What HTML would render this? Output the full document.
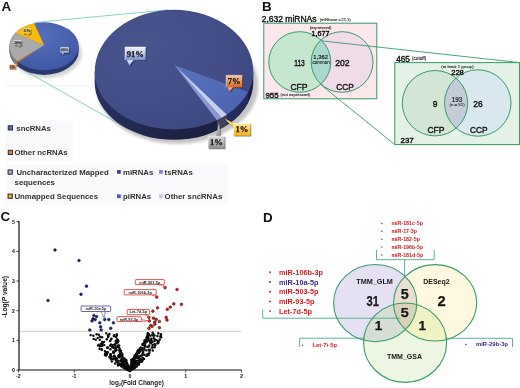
<!DOCTYPE html>
<html><head><meta charset="utf-8"><title>Figure</title>
<style>
html,body{margin:0;padding:0;background:#fff;}
body{width:520px;height:388px;overflow:hidden;font-family:"Liberation Sans",sans-serif;}
svg{display:block}
text{font-family:"Liberation Sans",sans-serif;}
.pl{font-weight:bold;font-size:13.4px;fill:#111}
.lg{font-weight:bold;font-size:7.8px;fill:#333}
.vt{fill:#151515;stroke:#151515;stroke-width:0.4px;paint-order:stroke}
.lg{stroke:none}
.vm{fill:#1a1a1a;stroke:#1a1a1a;stroke-width:0.18px;paint-order:stroke}
.vs{fill:#222;stroke:#222;stroke-width:0.1px;paint-order:stroke}
</style></head><body>
<svg width="520" height="388" viewBox="0 0 520 388">
<defs>
<radialGradient id="gBig" cx="0.3" cy="0.3" r="0.9"><stop offset="0" stop-color="#49548f"/><stop offset="0.55" stop-color="#434e89"/><stop offset="1" stop-color="#3b4680"/></radialGradient>
<linearGradient id="gBigSide" x1="0" y1="0" x2="1" y2="0"><stop offset="0" stop-color="#2a305f"/><stop offset="0.45" stop-color="#1e2346"/><stop offset="1" stop-color="#1a1e3d"/></linearGradient>
<radialGradient id="gSm" cx="0.45" cy="0.3" r="0.9"><stop offset="0" stop-color="#5570bd"/><stop offset="1" stop-color="#3b519c"/></radialGradient>
<linearGradient id="gMid" x1="0" y1="0" x2="1" y2="1"><stop offset="0" stop-color="#5b74bd"/><stop offset="1" stop-color="#4a62ae"/></linearGradient>
<linearGradient id="lblB" x1="0" y1="0" x2="0" y2="1"><stop offset="0" stop-color="#f1f4fc"/><stop offset="0.45" stop-color="#c3cdea"/><stop offset="1" stop-color="#7b8fc9"/></linearGradient>
<linearGradient id="lblO" x1="0" y1="0" x2="0" y2="1"><stop offset="0" stop-color="#f7c9a0"/><stop offset="1" stop-color="#d9661c"/></linearGradient>
<linearGradient id="lblY" x1="0" y1="0" x2="0" y2="1"><stop offset="0" stop-color="#ffe9a0"/><stop offset="1" stop-color="#f2b50a"/></linearGradient>
<linearGradient id="lblG" x1="0" y1="0" x2="0" y2="1"><stop offset="0" stop-color="#dcdcdc"/><stop offset="1" stop-color="#8f8f8f"/></linearGradient>
<filter id="sh" x="-20%" y="-20%" width="150%" height="160%"><feGaussianBlur stdDeviation="1.6"/></filter>
<filter id="soft"><feGaussianBlur stdDeviation="0.35"/></filter>
</defs>
<rect width="520" height="388" fill="#fff"/>

<g id="panelA">
<text x="1.4" y="11.3" class="pl">A</text>
<path d="M5.5,85.8 L90,85.8" stroke="#e6e6e6" stroke-width="0.6"/>
<path d="M34,22.6 L168,9.8 M18.8,67.4 L128,129" stroke="#7fd0b8" stroke-width="0.9" fill="none"/>
<ellipse cx="46.1" cy="53.4" rx="35.6" ry="24.5" fill="#999" opacity="0.45" filter="url(#sh)"/>
<path d="M9.5,46.3 L9.5,50.9 A34.6,24 0 0 0 78.7,50.9 L78.7,46.3 Z" fill="#2a3870"/>
<ellipse cx="44.1" cy="46.3" rx="34.6" ry="24" fill="url(#gSm)"/>
<path d="M18.39,62.36 A34.6,24 0 0 1 16.98,61.21 l0,4.6 A34.6,24 0 0 0 18.39,66.96 Z" fill="#9a4a10"/>
<path d="M16.98,61.21 A34.6,24 0 0 1 9.50,46.30 l0,4.6 A34.6,24 0 0 0 16.98,65.81 Z" fill="#7d7d7d"/>
<path d="M44.10,45.30 L18.39,62.36 A34.6,24 0 0 1 16.98,61.21 Z" fill="#d9701f" />
<path d="M44.10,45.30 L16.98,61.21 A34.6,24 0 0 1 15.28,33.02 Z" fill="#a9a9a9" />
<path d="M44.10,45.30 L15.28,33.02 A34.6,24 0 0 1 34.10,23.32 Z" fill="#f6b912" />
<path d="M23,28.7 H30.6 V33.8 H23 Z M26,33.5 L28.5,33.5 L28.5,36 Z" transform="translate(0.9,0.9)" fill="#1a1f3a" opacity="0.55" filter="url(#soft)"/><path d="M26,33.5 L28.5,33.5 L28.5,36 Z" fill="url(#lblY)"/><rect x="23" y="28.7" width="7.60" height="5.10" fill="url(#lblY)"/><path d="M23,33.8 V28.7 H30.6" fill="none" stroke="#fff" stroke-width="0.3" opacity="0.85"/><text x="26.80" y="32.47" font-size="3.6" font-weight="bold" text-anchor="middle" fill="#141414" stroke="#141414" stroke-width="0.08" style="font-family:'Liberation Serif',serif">11%</text>
<path d="M14.2,40.4 H21.4 V45.6 H14.2 Z M17,45 L19.5,45 L19.5,47.6 Z" transform="translate(0.9,0.9)" fill="#1a1f3a" opacity="0.55" filter="url(#soft)"/><path d="M17,45 L19.5,45 L19.5,47.6 Z" fill="url(#lblG)"/><rect x="14.2" y="40.4" width="7.20" height="5.20" fill="url(#lblG)"/><path d="M14.2,45.6 V40.4 H21.4" fill="none" stroke="#fff" stroke-width="0.3" opacity="0.85"/><text x="17.80" y="44.22" font-size="3.6" font-weight="bold" text-anchor="middle" fill="#141414" stroke="#141414" stroke-width="0.08" style="font-family:'Liberation Serif',serif">20%</text>
<path d="M60.7,47.4 H68.8 V53 H60.7 Z M62,52.5 L64.5,52.5 L62.6,55 Z" transform="translate(0.9,0.9)" fill="#1a1f3a" opacity="0.55" filter="url(#soft)"/><path d="M62,52.5 L64.5,52.5 L62.6,55 Z" fill="url(#lblB)"/><rect x="60.7" y="47.4" width="8.10" height="5.60" fill="url(#lblB)"/><path d="M60.7,53 V47.4 H68.8" fill="none" stroke="#fff" stroke-width="0.3" opacity="0.85"/><text x="64.75" y="51.42" font-size="3.6" font-weight="bold" text-anchor="middle" fill="#141414" stroke="#141414" stroke-width="0.08" style="font-family:'Liberation Serif',serif">68%</text>
<path d="M9.2,64.4 H15.5 V68.8 H9.2 Z M14,65 L15.4,66 L18,64.3 Z" transform="translate(0.9,0.9)" fill="#1a1f3a" opacity="0.55" filter="url(#soft)"/><path d="M14,65 L15.4,66 L18,64.3 Z" fill="url(#lblO)"/><rect x="9.2" y="64.4" width="6.30" height="4.40" fill="url(#lblO)"/><path d="M9.2,68.8 V64.4 H15.5" fill="none" stroke="#fff" stroke-width="0.3" opacity="0.85"/><text x="12.35" y="67.69" font-size="3.2" font-weight="bold" text-anchor="middle" fill="#141414" stroke="#141414" stroke-width="0.08" style="font-family:'Liberation Serif',serif">1%</text>
<ellipse cx="177" cy="85.30000000000001" rx="81.3" ry="58.5" fill="#888" opacity="0.5" filter="url(#sh)"/>
<path d="M94.7,71.9 L94.7,82.30000000000001 A79.3,57.5 0 0 0 253.3,82.30000000000001 L253.3,71.9 Z" fill="url(#gBigSide)"/>
<path d="M94.7,71.9 A79.3,62.2 0 0 1 253.3,71.9 A79.3,57.5 0 0 1 94.7,71.9 Z" fill="url(#gBig)"/>
<path d="M174.60,65.30 L248.28,92.04 A79.3,57.5 0 0 1 226.96,114.70 Z" fill="url(#gMid)" />
<path d="M174.60,65.30 L226.96,114.70 A79.3,57.5 0 0 1 221.61,117.88 Z" fill="#c5cff0" />
<path d="M174.60,65.30 L221.61,117.88 A79.3,57.5 0 0 1 216.96,120.23 Z" fill="#8b9ad2" />
<path d="M248.28,92.04 A79.3,57.5 0 0 1 226.96,114.70 l0,10.4 A79.3,57.5 0 0 0 248.28,102.44 Z" fill="#262d5c"/>
<path d="M226.96,114.70 A79.3,57.5 0 0 1 216.96,120.23 l0,10.4 A79.3,57.5 0 0 0 226.96,125.10 Z" fill="#3f4258"/>
<path d="M125,47 H145.6 V60.2 H125 Z M126.8,59.8 L133.6,59.8 L129.3,66 Z" transform="translate(0.9,0.9)" fill="#1a1f3a" opacity="0.55" filter="url(#soft)"/><path d="M126.8,59.8 L133.6,59.8 L129.3,66 Z" fill="url(#lblB)"/><rect x="125" y="47" width="20.60" height="13.20" fill="url(#lblB)"/><path d="M125,60.2 V47 H145.6" fill="none" stroke="#fff" stroke-width="0.5" opacity="0.85"/><text x="135.30" y="56.52" font-size="8.6" font-weight="bold" text-anchor="middle" fill="#141414" stroke="#141414" stroke-width="0.25" style="font-family:'Liberation Serif',serif">91%</text>
<path d="M226.2,75.3 H242.3 V87.4 H226.2 Z M227.8,87 L233,87 L229.5,92 Z" transform="translate(0.9,0.9)" fill="#1a1f3a" opacity="0.55" filter="url(#soft)"/><path d="M227.8,87 L233,87 L229.5,92 Z" fill="url(#lblO)"/><rect x="226.2" y="75.3" width="16.10" height="12.10" fill="url(#lblO)"/><path d="M226.2,87.4 V75.3 H242.3" fill="none" stroke="#fff" stroke-width="0.5" opacity="0.85"/><text x="234.25" y="84.27" font-size="8.6" font-weight="bold" text-anchor="middle" fill="#141414" stroke="#141414" stroke-width="0.25" style="font-family:'Liberation Serif',serif">7%</text>
<path d="M233.6,123.3 H250.4 V135.6 H233.6 Z M234,128.5 L234,123.5 L224.5,118.6 Z" transform="translate(0.9,0.9)" fill="#1a1f3a" opacity="0.55" filter="url(#soft)"/><path d="M234,128.5 L234,123.5 L224.5,118.6 Z" fill="url(#lblY)"/><rect x="233.6" y="123.3" width="16.80" height="12.30" fill="url(#lblY)"/><path d="M233.6,135.6 V123.3 H250.4" fill="none" stroke="#fff" stroke-width="0.5" opacity="0.85"/><text x="242.00" y="132.37" font-size="8.6" font-weight="bold" text-anchor="middle" fill="#141414" stroke="#141414" stroke-width="0.25" style="font-family:'Liberation Serif',serif">1%</text>
<path d="M208.2,136.1 H224.6 V148.3 H208.2 Z M216,136.5 L220.6,136.5 L219,123 Z" transform="translate(0.9,0.9)" fill="#1a1f3a" opacity="0.55" filter="url(#soft)"/><path d="M216,136.5 L220.6,136.5 L219,123 Z" fill="url(#lblG)"/><rect x="208.2" y="136.1" width="16.40" height="12.20" fill="url(#lblG)"/><path d="M208.2,148.3 V136.1 H224.6" fill="none" stroke="#fff" stroke-width="0.5" opacity="0.85"/><text x="216.40" y="145.12" font-size="8.6" font-weight="bold" text-anchor="middle" fill="#141414" stroke="#141414" stroke-width="0.25" style="font-family:'Liberation Serif',serif">1%</text>
<rect x="5.4" y="120.7" width="67.3" height="40.3" fill="#fafafc"/><rect x="5.4" y="164.2" width="222.3" height="40.2" fill="#fafafc"/>
<rect x="8.3" y="125.80000000000001" width="4.2" height="4.2" fill="#5470c4" stroke="#2e3048" stroke-width="1.05"/><text x="16.3" y="130.70000000000002" class="lg">sncRNAs</text>
<rect x="8.3" y="150.3" width="4.2" height="4.2" fill="#ee7f22" stroke="#2e3048" stroke-width="1.05"/><text x="14.4" y="155.20000000000002" class="lg">Other ncRNAs</text>
<rect x="8.1" y="170.0" width="4.2" height="4.2" fill="#b5b5b5" stroke="#2e3048" stroke-width="1.05"/><text x="16.4" y="174.9" class="lg">Uncharacterized Mapped</text>
<text x="14.6" y="184.6" class="lg">sequences</text>
<rect x="8.1" y="194.1" width="4.2" height="4.2" fill="#f6b912" stroke="#2e3048" stroke-width="1.05"/><text x="14.4" y="199.0" class="lg">Unmapped Sequences</text>
<rect x="117.0" y="170.0" width="3.8" height="3.8" fill="#3b4a8c"/><text x="123" y="174.70000000000002" class="lg">miRNAs</text>
<rect x="159.1" y="170.0" width="3.8" height="3.8" fill="#7b8ccb"/><text x="164.6" y="174.70000000000002" class="lg">tsRNAs</text>
<rect x="117.0" y="194.29999999999998" width="3.8" height="3.8" fill="#4a5fb0"/><text x="123" y="199.0" class="lg">piRNAs</text>
<rect x="159.1" y="194.29999999999998" width="3.8" height="3.8" fill="#c3c7e8"/><text x="164.6" y="199.0" class="lg">Other sncRNAs</text>
</g>
<g id="panelB">
<text x="262" y="11" class="pl">B</text>
<text x="261.7" y="21.6" font-size="8.5" text-anchor="start" class="vt" >2,632 miRNAs</text>
<text x="319.7" y="21.3" font-size="4.1" text-anchor="start" class="vs" >(miRbase v.22.1)</text>
<rect x="263.8" y="23.2" width="113" height="75.6" fill="#fbe8ec" stroke="#3a9a6a" stroke-width="1"/>
<clipPath id="cpB1"><ellipse cx="299.75" cy="62" rx="31" ry="30.3" /></clipPath>
<ellipse cx="299.75" cy="62" rx="31" ry="30.3" fill="#c6e6d0"/>
<ellipse cx="342.1" cy="62" rx="30.9" ry="30.3" fill="#f0dbe9"/>
<ellipse cx="342.1" cy="62" rx="30.9" ry="30.3" fill="#a9d9cd" clip-path="url(#cpB1)"/>
<ellipse cx="299.75" cy="62" rx="31" ry="30.3" fill="none" stroke="#3a9a6a" stroke-width="1"/>
<ellipse cx="342.1" cy="62" rx="30.9" ry="30.3" fill="none" stroke="#3a9a6a" stroke-width="1"/>
<path d="M321.2,40.8 L519.5,62.6 M321.2,85 L394.8,144.6" stroke="#3a9a6a" stroke-width="0.9" fill="none"/>
<text x="320.5" y="29" font-size="4.1" text-anchor="middle" class="vs" >(expressed)</text>
<text x="320.4" y="35.5" font-size="7.2" text-anchor="middle" class="vt" >1,677</text>
<text x="299.5" y="66.3" font-size="8.6" text-anchor="middle" class="vt" textLength="10.6" lengthAdjust="spacingAndGlyphs" >113</text>
<text x="342.3" y="66.3" font-size="8.6" text-anchor="middle" class="vt" >202</text>
<text x="320.7" y="58.8" font-size="5.9" text-anchor="middle" class="vm" >1,362</text>
<text x="321.2" y="63.9" font-size="4.5" text-anchor="middle" class="vs" >common</text>
<text x="299" y="90" font-size="9.5" text-anchor="middle" class="vt" textLength="17.2" lengthAdjust="spacingAndGlyphs" >CFP</text>
<text x="345" y="90" font-size="9.5" text-anchor="middle" class="vt" textLength="17.6" lengthAdjust="spacingAndGlyphs" >CCP</text>
<text x="265.4" y="97.5" font-size="7.9" text-anchor="start" class="vt" >955</text>
<text x="280.5" y="96.4" font-size="4.25" text-anchor="start" class="vs" >(not expressed)</text>
<rect x="394.8" y="62.6" width="124.7" height="82" fill="#e3f1e6" stroke="#3a9a6a" stroke-width="1"/>
<clipPath id="cpB2"><ellipse cx="435" cy="103.2" rx="32.7" ry="32.7" /></clipPath>
<ellipse cx="435" cy="103.2" rx="32.7" ry="32.7" fill="#d3e5d5"/>
<ellipse cx="477.8" cy="103" rx="33.2" ry="33.2" fill="#d9e7ee"/>
<ellipse cx="477.8" cy="103" rx="33.2" ry="33.2" fill="#c4ccd9" clip-path="url(#cpB2)"/>
<ellipse cx="435" cy="103.2" rx="32.7" ry="32.7" fill="none" stroke="#3a9a6a" stroke-width="1"/>
<ellipse cx="477.8" cy="103" rx="33.2" ry="33.2" fill="none" stroke="#3a9a6a" stroke-width="1"/>
<text x="396.2" y="61.7" font-size="8.2" text-anchor="start" class="vt" >465</text>
<text x="412" y="60.2" font-size="4.6" text-anchor="start" class="vs" >(cutoff)</text>
<text x="457.5" y="68.2" font-size="4.3" text-anchor="middle" class="vs" >(at least 1 group)</text>
<text x="457.5" y="75" font-size="7.6" text-anchor="middle" class="vt" >228</text>
<text x="435" y="107" font-size="8.4" text-anchor="middle" class="vt" >9</text>
<text x="478" y="107" font-size="8.4" text-anchor="middle" class="vt" >26</text>
<text x="457.1" y="101.7" font-size="6.3" text-anchor="middle" class="vm" >193</text>
<text x="457.1" y="106.3" font-size="4.4" text-anchor="middle" class="vs" >(n = 51)</text>
<text x="436" y="133.2" font-size="9.5" text-anchor="middle" class="vt" textLength="17.2" lengthAdjust="spacingAndGlyphs" >CFP</text>
<text x="478.8" y="132.6" font-size="9.5" text-anchor="middle" class="vt" textLength="17.6" lengthAdjust="spacingAndGlyphs" >CCP</text>
<text x="400.5" y="143" font-size="7.9" text-anchor="start" class="vt" >237</text>
</g>
<g id="panelC">
<text x="0.6" y="221.2" class="pl">C</text>
<path d="M19,221 L19,370 L241.5,370" stroke="#111" stroke-width="1.2" fill="none"/>
<path d="M16.5,370.0 L19,370.0" stroke="#111" stroke-width="0.8"/>
<text x="15" y="371.8" font-size="5.2" font-weight="bold" text-anchor="end" fill="#111">0</text>
<path d="M16.5,340.3 L19,340.3" stroke="#111" stroke-width="0.8"/>
<text x="15" y="342.1" font-size="5.2" font-weight="bold" text-anchor="end" fill="#111">1</text>
<path d="M16.5,310.7 L19,310.7" stroke="#111" stroke-width="0.8"/>
<text x="15" y="312.5" font-size="5.2" font-weight="bold" text-anchor="end" fill="#111">2</text>
<path d="M16.5,281.0 L19,281.0" stroke="#111" stroke-width="0.8"/>
<text x="15" y="282.8" font-size="5.2" font-weight="bold" text-anchor="end" fill="#111">3</text>
<path d="M16.5,251.4 L19,251.4" stroke="#111" stroke-width="0.8"/>
<text x="15" y="253.2" font-size="5.2" font-weight="bold" text-anchor="end" fill="#111">4</text>
<path d="M16.5,221.7 L19,221.7" stroke="#111" stroke-width="0.8"/>
<text x="15" y="223.5" font-size="5.2" font-weight="bold" text-anchor="end" fill="#111">5</text>
<path d="M18.4,370 L18.4,372.5" stroke="#111" stroke-width="0.8"/>
<text x="18.4" y="378" font-size="5.2" font-weight="bold" text-anchor="middle" fill="#111">-2</text>
<path d="M74.2,370 L74.2,372.5" stroke="#111" stroke-width="0.8"/>
<text x="74.2" y="378" font-size="5.2" font-weight="bold" text-anchor="middle" fill="#111">-1</text>
<path d="M129.9,370 L129.9,372.5" stroke="#111" stroke-width="0.8"/>
<text x="129.9" y="378" font-size="5.2" font-weight="bold" text-anchor="middle" fill="#111">0</text>
<path d="M185.7,370 L185.7,372.5" stroke="#111" stroke-width="0.8"/>
<text x="185.7" y="378" font-size="5.2" font-weight="bold" text-anchor="middle" fill="#111">1</text>
<path d="M241.4,370 L241.4,372.5" stroke="#111" stroke-width="0.8"/>
<text x="241.4" y="378" font-size="5.2" font-weight="bold" text-anchor="middle" fill="#111">2</text>
<path d="M19,331.3 L241.5,331.3" stroke="#555" stroke-width="0.55" stroke-dasharray="0.8,0.8"/>
<text transform="translate(7.4,296.9) rotate(-90)" font-size="6.6" font-weight="bold" text-anchor="middle" fill="#222">-Log(<tspan font-style="italic">P</tspan> value)</text>
<text x="136.6" y="385" font-size="6.4" font-weight="bold" text-anchor="middle" fill="#222">log<tspan font-size="3.6" dy="1.2">2</tspan><tspan dy="-1.2">(Fold Change)</tspan></text>
<circle cx="152.7" cy="332.6" r="1.2" fill="#0c0c0c"/>
<circle cx="147.7" cy="333.2" r="1.2" fill="#0c0c0c"/>
<circle cx="106.2" cy="333.2" r="1.2" fill="#0c0c0c"/>
<circle cx="158.3" cy="333.3" r="1.2" fill="#0c0c0c"/>
<circle cx="148.2" cy="333.7" r="1.2" fill="#0c0c0c"/>
<circle cx="109.4" cy="334.0" r="1.2" fill="#0c0c0c"/>
<circle cx="153.4" cy="334.0" r="1.2" fill="#0c0c0c"/>
<circle cx="116.7" cy="334.2" r="1.2" fill="#0c0c0c"/>
<circle cx="161.0" cy="334.2" r="1.2" fill="#0c0c0c"/>
<circle cx="96.6" cy="334.3" r="1.2" fill="#0c0c0c"/>
<circle cx="148.4" cy="334.3" r="1.2" fill="#0c0c0c"/>
<circle cx="148.7" cy="334.7" r="1.2" fill="#0c0c0c"/>
<circle cx="152.3" cy="334.8" r="1.2" fill="#0c0c0c"/>
<circle cx="148.9" cy="334.8" r="1.2" fill="#0c0c0c"/>
<circle cx="98.8" cy="334.8" r="1.2" fill="#0c0c0c"/>
<circle cx="90.6" cy="335.1" r="1.2" fill="#0c0c0c"/>
<circle cx="114.0" cy="335.2" r="1.2" fill="#0c0c0c"/>
<circle cx="147.5" cy="335.3" r="1.2" fill="#0c0c0c"/>
<circle cx="108.1" cy="335.3" r="1.2" fill="#0c0c0c"/>
<circle cx="154.5" cy="335.5" r="1.2" fill="#0c0c0c"/>
<circle cx="116.8" cy="335.5" r="1.2" fill="#0c0c0c"/>
<circle cx="153.4" cy="335.7" r="1.2" fill="#0c0c0c"/>
<circle cx="93.3" cy="335.7" r="1.2" fill="#0c0c0c"/>
<circle cx="160.8" cy="335.8" r="1.2" fill="#0c0c0c"/>
<circle cx="150.5" cy="335.8" r="1.2" fill="#0c0c0c"/>
<circle cx="108.4" cy="335.9" r="1.2" fill="#0c0c0c"/>
<circle cx="147.9" cy="335.9" r="1.2" fill="#0c0c0c"/>
<circle cx="157.4" cy="336.0" r="1.2" fill="#0c0c0c"/>
<circle cx="147.4" cy="336.3" r="1.2" fill="#0c0c0c"/>
<circle cx="114.0" cy="336.3" r="1.2" fill="#0c0c0c"/>
<circle cx="148.0" cy="336.6" r="1.2" fill="#0c0c0c"/>
<circle cx="100.0" cy="336.7" r="1.2" fill="#0c0c0c"/>
<circle cx="147.1" cy="336.8" r="1.2" fill="#0c0c0c"/>
<circle cx="160.4" cy="336.8" r="1.2" fill="#0c0c0c"/>
<circle cx="146.9" cy="336.9" r="1.2" fill="#0c0c0c"/>
<circle cx="116.1" cy="337.0" r="1.2" fill="#0c0c0c"/>
<circle cx="108.0" cy="337.0" r="1.2" fill="#0c0c0c"/>
<circle cx="108.2" cy="337.1" r="1.2" fill="#0c0c0c"/>
<circle cx="102.1" cy="337.3" r="1.2" fill="#0c0c0c"/>
<circle cx="161.1" cy="337.3" r="1.2" fill="#0c0c0c"/>
<circle cx="147.4" cy="337.5" r="1.2" fill="#0c0c0c"/>
<circle cx="148.3" cy="337.8" r="1.2" fill="#0c0c0c"/>
<circle cx="97.7" cy="337.9" r="1.2" fill="#0c0c0c"/>
<circle cx="147.3" cy="337.9" r="1.2" fill="#0c0c0c"/>
<circle cx="146.4" cy="338.0" r="1.2" fill="#0c0c0c"/>
<circle cx="153.7" cy="338.1" r="1.2" fill="#0c0c0c"/>
<circle cx="148.4" cy="338.1" r="1.2" fill="#0c0c0c"/>
<circle cx="111.5" cy="338.6" r="1.2" fill="#0c0c0c"/>
<circle cx="151.4" cy="338.8" r="1.2" fill="#0c0c0c"/>
<circle cx="93.7" cy="338.9" r="1.2" fill="#0c0c0c"/>
<circle cx="148.1" cy="339.1" r="1.2" fill="#0c0c0c"/>
<circle cx="117.1" cy="339.2" r="1.2" fill="#0c0c0c"/>
<circle cx="106.8" cy="339.3" r="1.2" fill="#0c0c0c"/>
<circle cx="154.6" cy="339.3" r="1.2" fill="#0c0c0c"/>
<circle cx="111.1" cy="339.4" r="1.2" fill="#0c0c0c"/>
<circle cx="159.8" cy="339.5" r="1.2" fill="#0c0c0c"/>
<circle cx="150.8" cy="339.6" r="1.2" fill="#0c0c0c"/>
<circle cx="99.8" cy="339.7" r="1.2" fill="#0c0c0c"/>
<circle cx="95.8" cy="339.7" r="1.2" fill="#0c0c0c"/>
<circle cx="156.5" cy="340.1" r="1.2" fill="#0c0c0c"/>
<circle cx="117.9" cy="340.1" r="1.2" fill="#0c0c0c"/>
<circle cx="144.6" cy="340.2" r="1.2" fill="#0c0c0c"/>
<circle cx="145.8" cy="340.2" r="1.2" fill="#0c0c0c"/>
<circle cx="117.7" cy="340.2" r="1.2" fill="#0c0c0c"/>
<circle cx="148.0" cy="340.2" r="1.2" fill="#0c0c0c"/>
<circle cx="145.6" cy="340.4" r="1.2" fill="#0c0c0c"/>
<circle cx="150.1" cy="340.5" r="1.2" fill="#0c0c0c"/>
<circle cx="118.0" cy="340.7" r="1.2" fill="#0c0c0c"/>
<circle cx="151.6" cy="340.9" r="1.2" fill="#0c0c0c"/>
<circle cx="115.7" cy="341.0" r="1.2" fill="#0c0c0c"/>
<circle cx="110.2" cy="341.0" r="1.2" fill="#0c0c0c"/>
<circle cx="118.2" cy="341.0" r="1.2" fill="#0c0c0c"/>
<circle cx="154.6" cy="341.0" r="1.2" fill="#0c0c0c"/>
<circle cx="147.5" cy="341.1" r="1.2" fill="#0c0c0c"/>
<circle cx="158.7" cy="341.1" r="1.2" fill="#0c0c0c"/>
<circle cx="157.9" cy="341.1" r="1.2" fill="#0c0c0c"/>
<circle cx="118.1" cy="341.3" r="1.2" fill="#0c0c0c"/>
<circle cx="145.2" cy="341.6" r="1.2" fill="#0c0c0c"/>
<circle cx="152.6" cy="341.7" r="1.2" fill="#0c0c0c"/>
<circle cx="115.9" cy="341.9" r="1.2" fill="#0c0c0c"/>
<circle cx="102.2" cy="341.9" r="1.2" fill="#0c0c0c"/>
<circle cx="150.5" cy="342.0" r="1.2" fill="#0c0c0c"/>
<circle cx="104.0" cy="342.0" r="1.2" fill="#0c0c0c"/>
<circle cx="146.3" cy="342.3" r="1.2" fill="#0c0c0c"/>
<circle cx="158.5" cy="342.4" r="1.2" fill="#0c0c0c"/>
<circle cx="150.0" cy="342.5" r="1.2" fill="#0c0c0c"/>
<circle cx="144.1" cy="342.5" r="1.2" fill="#0c0c0c"/>
<circle cx="117.8" cy="342.5" r="1.2" fill="#0c0c0c"/>
<circle cx="144.4" cy="342.8" r="1.2" fill="#0c0c0c"/>
<circle cx="157.7" cy="342.9" r="1.2" fill="#0c0c0c"/>
<circle cx="151.0" cy="343.2" r="1.2" fill="#0c0c0c"/>
<circle cx="102.1" cy="343.3" r="1.2" fill="#0c0c0c"/>
<circle cx="116.2" cy="343.3" r="1.2" fill="#0c0c0c"/>
<circle cx="157.5" cy="343.4" r="1.2" fill="#0c0c0c"/>
<circle cx="102.5" cy="343.5" r="1.2" fill="#0c0c0c"/>
<circle cx="100.7" cy="343.9" r="1.2" fill="#0c0c0c"/>
<circle cx="143.5" cy="343.9" r="1.2" fill="#0c0c0c"/>
<circle cx="144.9" cy="344.0" r="1.2" fill="#0c0c0c"/>
<circle cx="154.7" cy="344.0" r="1.2" fill="#0c0c0c"/>
<circle cx="142.8" cy="344.1" r="1.2" fill="#0c0c0c"/>
<circle cx="142.6" cy="344.1" r="1.2" fill="#0c0c0c"/>
<circle cx="114.8" cy="344.4" r="1.2" fill="#0c0c0c"/>
<circle cx="111.0" cy="344.5" r="1.2" fill="#0c0c0c"/>
<circle cx="143.5" cy="344.7" r="1.2" fill="#0c0c0c"/>
<circle cx="114.3" cy="344.8" r="1.2" fill="#0c0c0c"/>
<circle cx="142.5" cy="344.9" r="1.2" fill="#0c0c0c"/>
<circle cx="98.7" cy="344.9" r="1.2" fill="#0c0c0c"/>
<circle cx="152.6" cy="344.9" r="1.2" fill="#0c0c0c"/>
<circle cx="112.6" cy="345.1" r="1.2" fill="#0c0c0c"/>
<circle cx="104.2" cy="345.1" r="1.2" fill="#0c0c0c"/>
<circle cx="144.8" cy="345.2" r="1.2" fill="#0c0c0c"/>
<circle cx="145.0" cy="345.3" r="1.2" fill="#0c0c0c"/>
<circle cx="155.3" cy="345.3" r="1.2" fill="#0c0c0c"/>
<circle cx="143.2" cy="345.3" r="1.2" fill="#0c0c0c"/>
<circle cx="98.1" cy="345.4" r="1.2" fill="#0c0c0c"/>
<circle cx="102.5" cy="345.4" r="1.2" fill="#0c0c0c"/>
<circle cx="149.2" cy="345.4" r="1.2" fill="#0c0c0c"/>
<circle cx="118.6" cy="345.4" r="1.2" fill="#0c0c0c"/>
<circle cx="101.8" cy="345.5" r="1.2" fill="#0c0c0c"/>
<circle cx="119.2" cy="345.6" r="1.2" fill="#0c0c0c"/>
<circle cx="117.9" cy="345.7" r="1.2" fill="#0c0c0c"/>
<circle cx="101.9" cy="345.8" r="1.2" fill="#0c0c0c"/>
<circle cx="110.1" cy="345.8" r="1.2" fill="#0c0c0c"/>
<circle cx="101.4" cy="346.0" r="1.2" fill="#0c0c0c"/>
<circle cx="115.5" cy="346.1" r="1.2" fill="#0c0c0c"/>
<circle cx="100.0" cy="346.3" r="1.2" fill="#0c0c0c"/>
<circle cx="148.8" cy="346.4" r="1.2" fill="#0c0c0c"/>
<circle cx="117.3" cy="346.7" r="1.2" fill="#0c0c0c"/>
<circle cx="144.9" cy="346.8" r="1.2" fill="#0c0c0c"/>
<circle cx="147.3" cy="346.9" r="1.2" fill="#0c0c0c"/>
<circle cx="112.8" cy="347.0" r="1.2" fill="#0c0c0c"/>
<circle cx="112.3" cy="347.2" r="1.2" fill="#0c0c0c"/>
<circle cx="152.6" cy="347.2" r="1.2" fill="#0c0c0c"/>
<circle cx="154.5" cy="347.2" r="1.2" fill="#0c0c0c"/>
<circle cx="118.8" cy="347.3" r="1.2" fill="#0c0c0c"/>
<circle cx="107.6" cy="347.4" r="1.2" fill="#0c0c0c"/>
<circle cx="140.7" cy="347.4" r="1.2" fill="#0c0c0c"/>
<circle cx="151.9" cy="347.5" r="1.2" fill="#0c0c0c"/>
<circle cx="107.2" cy="347.6" r="1.2" fill="#0c0c0c"/>
<circle cx="107.3" cy="347.6" r="1.2" fill="#0c0c0c"/>
<circle cx="113.8" cy="347.8" r="1.2" fill="#0c0c0c"/>
<circle cx="114.7" cy="347.9" r="1.2" fill="#0c0c0c"/>
<circle cx="116.1" cy="347.9" r="1.2" fill="#0c0c0c"/>
<circle cx="107.8" cy="348.1" r="1.2" fill="#0c0c0c"/>
<circle cx="142.4" cy="348.2" r="1.2" fill="#0c0c0c"/>
<circle cx="140.1" cy="348.5" r="1.2" fill="#0c0c0c"/>
<circle cx="143.9" cy="348.7" r="1.2" fill="#0c0c0c"/>
<circle cx="119.7" cy="348.8" r="1.2" fill="#0c0c0c"/>
<circle cx="99.6" cy="348.8" r="1.2" fill="#0c0c0c"/>
<circle cx="140.6" cy="349.0" r="1.2" fill="#0c0c0c"/>
<circle cx="101.7" cy="349.2" r="1.2" fill="#0c0c0c"/>
<circle cx="110.4" cy="349.3" r="1.2" fill="#0c0c0c"/>
<circle cx="144.5" cy="349.5" r="1.2" fill="#0c0c0c"/>
<circle cx="142.1" cy="349.5" r="1.2" fill="#0c0c0c"/>
<circle cx="140.5" cy="349.5" r="1.2" fill="#0c0c0c"/>
<circle cx="148.7" cy="349.6" r="1.2" fill="#0c0c0c"/>
<circle cx="150.0" cy="349.7" r="1.2" fill="#0c0c0c"/>
<circle cx="138.6" cy="349.7" r="1.2" fill="#0c0c0c"/>
<circle cx="116.6" cy="349.7" r="1.2" fill="#0c0c0c"/>
<circle cx="101.8" cy="349.9" r="1.2" fill="#0c0c0c"/>
<circle cx="119.6" cy="349.9" r="1.2" fill="#0c0c0c"/>
<circle cx="115.3" cy="350.0" r="1.2" fill="#0c0c0c"/>
<circle cx="119.4" cy="350.4" r="1.2" fill="#0c0c0c"/>
<circle cx="146.4" cy="350.4" r="1.2" fill="#0c0c0c"/>
<circle cx="115.5" cy="350.5" r="1.2" fill="#0c0c0c"/>
<circle cx="142.4" cy="350.5" r="1.2" fill="#0c0c0c"/>
<circle cx="152.8" cy="350.5" r="1.2" fill="#0c0c0c"/>
<circle cx="115.8" cy="350.5" r="1.2" fill="#0c0c0c"/>
<circle cx="140.8" cy="350.5" r="1.2" fill="#0c0c0c"/>
<circle cx="120.9" cy="350.7" r="1.2" fill="#0c0c0c"/>
<circle cx="139.4" cy="350.7" r="1.2" fill="#0c0c0c"/>
<circle cx="138.6" cy="350.7" r="1.2" fill="#0c0c0c"/>
<circle cx="149.4" cy="350.9" r="1.2" fill="#0c0c0c"/>
<circle cx="139.0" cy="350.9" r="1.2" fill="#0c0c0c"/>
<circle cx="104.9" cy="351.1" r="1.2" fill="#0c0c0c"/>
<circle cx="137.5" cy="351.1" r="1.2" fill="#0c0c0c"/>
<circle cx="120.3" cy="351.1" r="1.2" fill="#0c0c0c"/>
<circle cx="137.7" cy="351.2" r="1.2" fill="#0c0c0c"/>
<circle cx="120.0" cy="351.3" r="1.2" fill="#0c0c0c"/>
<circle cx="113.3" cy="351.5" r="1.2" fill="#0c0c0c"/>
<circle cx="140.0" cy="351.7" r="1.2" fill="#0c0c0c"/>
<circle cx="143.3" cy="351.9" r="1.2" fill="#0c0c0c"/>
<circle cx="107.7" cy="352.1" r="1.2" fill="#0c0c0c"/>
<circle cx="106.6" cy="352.1" r="1.2" fill="#0c0c0c"/>
<circle cx="121.0" cy="352.1" r="1.2" fill="#0c0c0c"/>
<circle cx="120.1" cy="352.3" r="1.2" fill="#0c0c0c"/>
<circle cx="107.4" cy="352.4" r="1.2" fill="#0c0c0c"/>
<circle cx="114.0" cy="352.5" r="1.2" fill="#0c0c0c"/>
<circle cx="107.3" cy="352.5" r="1.2" fill="#0c0c0c"/>
<circle cx="113.1" cy="352.7" r="1.2" fill="#0c0c0c"/>
<circle cx="139.0" cy="352.9" r="1.2" fill="#0c0c0c"/>
<circle cx="149.4" cy="352.9" r="1.2" fill="#0c0c0c"/>
<circle cx="105.8" cy="353.1" r="1.2" fill="#0c0c0c"/>
<circle cx="142.7" cy="353.2" r="1.2" fill="#0c0c0c"/>
<circle cx="105.8" cy="353.2" r="1.2" fill="#0c0c0c"/>
<circle cx="137.3" cy="353.2" r="1.2" fill="#0c0c0c"/>
<circle cx="120.8" cy="353.3" r="1.2" fill="#0c0c0c"/>
<circle cx="138.4" cy="353.3" r="1.2" fill="#0c0c0c"/>
<circle cx="106.0" cy="353.3" r="1.2" fill="#0c0c0c"/>
<circle cx="120.2" cy="353.4" r="1.2" fill="#0c0c0c"/>
<circle cx="136.7" cy="353.4" r="1.2" fill="#0c0c0c"/>
<circle cx="122.0" cy="353.4" r="1.2" fill="#0c0c0c"/>
<circle cx="120.2" cy="353.5" r="1.2" fill="#0c0c0c"/>
<circle cx="137.1" cy="353.5" r="1.2" fill="#0c0c0c"/>
<circle cx="136.7" cy="353.5" r="1.2" fill="#0c0c0c"/>
<circle cx="105.3" cy="353.6" r="1.2" fill="#0c0c0c"/>
<circle cx="106.7" cy="353.9" r="1.2" fill="#0c0c0c"/>
<circle cx="121.3" cy="353.9" r="1.2" fill="#0c0c0c"/>
<circle cx="147.4" cy="354.0" r="1.2" fill="#0c0c0c"/>
<circle cx="148.3" cy="354.1" r="1.2" fill="#0c0c0c"/>
<circle cx="110.6" cy="354.2" r="1.2" fill="#0c0c0c"/>
<circle cx="135.9" cy="354.4" r="1.2" fill="#0c0c0c"/>
<circle cx="110.6" cy="354.4" r="1.2" fill="#0c0c0c"/>
<circle cx="120.8" cy="354.5" r="1.2" fill="#0c0c0c"/>
<circle cx="120.2" cy="354.5" r="1.2" fill="#0c0c0c"/>
<circle cx="110.4" cy="354.6" r="1.2" fill="#0c0c0c"/>
<circle cx="122.3" cy="354.7" r="1.2" fill="#0c0c0c"/>
<circle cx="144.4" cy="354.7" r="1.2" fill="#0c0c0c"/>
<circle cx="142.6" cy="355.0" r="1.2" fill="#0c0c0c"/>
<circle cx="148.6" cy="355.0" r="1.2" fill="#0c0c0c"/>
<circle cx="104.9" cy="355.0" r="1.2" fill="#0c0c0c"/>
<circle cx="136.7" cy="355.0" r="1.2" fill="#0c0c0c"/>
<circle cx="134.8" cy="355.2" r="1.2" fill="#0c0c0c"/>
<circle cx="118.8" cy="355.2" r="1.2" fill="#0c0c0c"/>
<circle cx="106.4" cy="355.3" r="1.2" fill="#0c0c0c"/>
<circle cx="105.7" cy="355.3" r="1.2" fill="#0c0c0c"/>
<circle cx="135.7" cy="355.3" r="1.2" fill="#0c0c0c"/>
<circle cx="136.6" cy="355.4" r="1.2" fill="#0c0c0c"/>
<circle cx="119.6" cy="355.5" r="1.2" fill="#0c0c0c"/>
<circle cx="141.4" cy="355.5" r="1.2" fill="#0c0c0c"/>
<circle cx="110.7" cy="355.6" r="1.2" fill="#0c0c0c"/>
<circle cx="122.2" cy="355.6" r="1.2" fill="#0c0c0c"/>
<circle cx="119.6" cy="355.7" r="1.2" fill="#0c0c0c"/>
<circle cx="118.9" cy="355.7" r="1.2" fill="#0c0c0c"/>
<circle cx="121.8" cy="355.7" r="1.2" fill="#0c0c0c"/>
<circle cx="146.2" cy="355.7" r="1.2" fill="#0c0c0c"/>
<circle cx="114.3" cy="355.8" r="1.2" fill="#0c0c0c"/>
<circle cx="122.1" cy="355.8" r="1.2" fill="#0c0c0c"/>
<circle cx="114.4" cy="355.9" r="1.2" fill="#0c0c0c"/>
<circle cx="121.1" cy="355.9" r="1.2" fill="#0c0c0c"/>
<circle cx="146.7" cy="355.9" r="1.2" fill="#0c0c0c"/>
<circle cx="140.2" cy="356.0" r="1.2" fill="#0c0c0c"/>
<circle cx="118.6" cy="356.1" r="1.2" fill="#0c0c0c"/>
<circle cx="139.0" cy="356.1" r="1.2" fill="#0c0c0c"/>
<circle cx="119.4" cy="356.2" r="1.2" fill="#0c0c0c"/>
<circle cx="140.6" cy="356.2" r="1.2" fill="#0c0c0c"/>
<circle cx="120.4" cy="356.4" r="1.2" fill="#0c0c0c"/>
<circle cx="134.9" cy="356.5" r="1.2" fill="#0c0c0c"/>
<circle cx="118.8" cy="356.6" r="1.2" fill="#0c0c0c"/>
<circle cx="136.7" cy="356.6" r="1.2" fill="#0c0c0c"/>
<circle cx="113.6" cy="356.6" r="1.2" fill="#0c0c0c"/>
<circle cx="118.6" cy="356.8" r="1.2" fill="#0c0c0c"/>
<circle cx="111.5" cy="356.8" r="1.2" fill="#0c0c0c"/>
<circle cx="134.8" cy="356.8" r="1.2" fill="#0c0c0c"/>
<circle cx="115.0" cy="356.9" r="1.2" fill="#0c0c0c"/>
<circle cx="109.3" cy="357.1" r="1.2" fill="#0c0c0c"/>
<circle cx="122.6" cy="357.1" r="1.2" fill="#0c0c0c"/>
<circle cx="134.0" cy="357.1" r="1.2" fill="#0c0c0c"/>
<circle cx="137.3" cy="357.2" r="1.2" fill="#0c0c0c"/>
<circle cx="119.7" cy="357.3" r="1.2" fill="#0c0c0c"/>
<circle cx="138.5" cy="357.3" r="1.2" fill="#0c0c0c"/>
<circle cx="110.6" cy="357.5" r="1.2" fill="#0c0c0c"/>
<circle cx="115.8" cy="357.8" r="1.2" fill="#0c0c0c"/>
<circle cx="137.2" cy="357.8" r="1.2" fill="#0c0c0c"/>
<circle cx="142.7" cy="357.9" r="1.2" fill="#0c0c0c"/>
<circle cx="142.8" cy="357.9" r="1.2" fill="#0c0c0c"/>
<circle cx="111.0" cy="358.1" r="1.2" fill="#0c0c0c"/>
<circle cx="135.3" cy="358.1" r="1.2" fill="#0c0c0c"/>
<circle cx="110.5" cy="358.1" r="1.2" fill="#0c0c0c"/>
<circle cx="135.3" cy="358.2" r="1.2" fill="#0c0c0c"/>
<circle cx="114.5" cy="358.3" r="1.2" fill="#0c0c0c"/>
<circle cx="124.5" cy="358.4" r="1.2" fill="#0c0c0c"/>
<circle cx="139.1" cy="358.5" r="1.2" fill="#0c0c0c"/>
<circle cx="122.4" cy="358.5" r="1.2" fill="#0c0c0c"/>
<circle cx="117.1" cy="358.5" r="1.2" fill="#0c0c0c"/>
<circle cx="143.2" cy="358.5" r="1.2" fill="#0c0c0c"/>
<circle cx="132.9" cy="358.6" r="1.2" fill="#0c0c0c"/>
<circle cx="123.7" cy="358.6" r="1.2" fill="#0c0c0c"/>
<circle cx="134.6" cy="358.6" r="1.2" fill="#0c0c0c"/>
<circle cx="122.6" cy="358.8" r="1.2" fill="#0c0c0c"/>
<circle cx="144.0" cy="358.9" r="1.2" fill="#0c0c0c"/>
<circle cx="112.7" cy="359.0" r="1.2" fill="#0c0c0c"/>
<circle cx="134.3" cy="359.0" r="1.2" fill="#0c0c0c"/>
<circle cx="140.6" cy="359.1" r="1.2" fill="#0c0c0c"/>
<circle cx="123.2" cy="359.1" r="1.2" fill="#0c0c0c"/>
<circle cx="121.5" cy="359.2" r="1.2" fill="#0c0c0c"/>
<circle cx="113.5" cy="359.2" r="1.2" fill="#0c0c0c"/>
<circle cx="143.3" cy="359.2" r="1.2" fill="#0c0c0c"/>
<circle cx="142.4" cy="359.3" r="1.2" fill="#0c0c0c"/>
<circle cx="131.4" cy="359.6" r="1.2" fill="#0c0c0c"/>
<circle cx="111.0" cy="359.6" r="1.2" fill="#0c0c0c"/>
<circle cx="115.6" cy="359.7" r="1.2" fill="#0c0c0c"/>
<circle cx="123.9" cy="359.8" r="1.2" fill="#0c0c0c"/>
<circle cx="125.5" cy="359.8" r="1.2" fill="#0c0c0c"/>
<circle cx="133.6" cy="359.9" r="1.2" fill="#0c0c0c"/>
<circle cx="124.7" cy="360.0" r="1.2" fill="#0c0c0c"/>
<circle cx="140.0" cy="360.0" r="1.2" fill="#0c0c0c"/>
<circle cx="126.2" cy="360.1" r="1.2" fill="#0c0c0c"/>
<circle cx="116.6" cy="360.1" r="1.2" fill="#0c0c0c"/>
<circle cx="132.7" cy="360.2" r="1.2" fill="#0c0c0c"/>
<circle cx="141.7" cy="360.3" r="1.2" fill="#0c0c0c"/>
<circle cx="132.0" cy="360.4" r="1.2" fill="#0c0c0c"/>
<circle cx="138.0" cy="360.4" r="1.2" fill="#0c0c0c"/>
<circle cx="124.9" cy="360.4" r="1.2" fill="#0c0c0c"/>
<circle cx="142.4" cy="360.5" r="1.2" fill="#0c0c0c"/>
<circle cx="122.4" cy="360.5" r="1.2" fill="#0c0c0c"/>
<circle cx="126.3" cy="360.5" r="1.2" fill="#0c0c0c"/>
<circle cx="133.9" cy="360.6" r="1.2" fill="#0c0c0c"/>
<circle cx="134.1" cy="360.6" r="1.2" fill="#0c0c0c"/>
<circle cx="136.0" cy="360.7" r="1.2" fill="#0c0c0c"/>
<circle cx="120.9" cy="360.8" r="1.2" fill="#0c0c0c"/>
<circle cx="118.5" cy="360.8" r="1.2" fill="#0c0c0c"/>
<circle cx="131.8" cy="360.8" r="1.2" fill="#0c0c0c"/>
<circle cx="131.7" cy="360.8" r="1.2" fill="#0c0c0c"/>
<circle cx="120.5" cy="360.9" r="1.2" fill="#0c0c0c"/>
<circle cx="132.1" cy="360.9" r="1.2" fill="#0c0c0c"/>
<circle cx="132.8" cy="361.0" r="1.2" fill="#0c0c0c"/>
<circle cx="123.8" cy="361.0" r="1.2" fill="#0c0c0c"/>
<circle cx="131.8" cy="361.1" r="1.2" fill="#0c0c0c"/>
<circle cx="139.9" cy="361.1" r="1.2" fill="#0c0c0c"/>
<circle cx="125.9" cy="361.1" r="1.2" fill="#0c0c0c"/>
<circle cx="136.1" cy="361.1" r="1.2" fill="#0c0c0c"/>
<circle cx="134.2" cy="361.1" r="1.2" fill="#0c0c0c"/>
<circle cx="135.3" cy="361.2" r="1.2" fill="#0c0c0c"/>
<circle cx="132.3" cy="361.2" r="1.2" fill="#0c0c0c"/>
<circle cx="133.4" cy="361.4" r="1.2" fill="#0c0c0c"/>
<circle cx="132.1" cy="361.5" r="1.2" fill="#0c0c0c"/>
<circle cx="121.8" cy="361.5" r="1.2" fill="#0c0c0c"/>
<circle cx="126.1" cy="361.5" r="1.2" fill="#0c0c0c"/>
<circle cx="141.9" cy="361.5" r="1.2" fill="#0c0c0c"/>
<circle cx="116.4" cy="361.6" r="1.2" fill="#0c0c0c"/>
<circle cx="122.9" cy="361.6" r="1.2" fill="#0c0c0c"/>
<circle cx="111.9" cy="361.6" r="1.2" fill="#0c0c0c"/>
<circle cx="132.5" cy="361.6" r="1.2" fill="#0c0c0c"/>
<circle cx="132.2" cy="361.6" r="1.2" fill="#0c0c0c"/>
<circle cx="125.7" cy="361.7" r="1.2" fill="#0c0c0c"/>
<circle cx="132.9" cy="361.8" r="1.2" fill="#0c0c0c"/>
<circle cx="136.4" cy="362.0" r="1.2" fill="#0c0c0c"/>
<circle cx="140.6" cy="362.0" r="1.2" fill="#0c0c0c"/>
<circle cx="139.0" cy="362.2" r="1.2" fill="#0c0c0c"/>
<circle cx="134.1" cy="362.2" r="1.2" fill="#0c0c0c"/>
<circle cx="132.3" cy="362.2" r="1.2" fill="#0c0c0c"/>
<circle cx="117.7" cy="362.3" r="1.2" fill="#0c0c0c"/>
<circle cx="122.3" cy="362.3" r="1.2" fill="#0c0c0c"/>
<circle cx="125.4" cy="362.4" r="1.2" fill="#0c0c0c"/>
<circle cx="122.2" cy="362.4" r="1.2" fill="#0c0c0c"/>
<circle cx="126.4" cy="362.4" r="1.2" fill="#0c0c0c"/>
<circle cx="134.0" cy="362.5" r="1.2" fill="#0c0c0c"/>
<circle cx="126.0" cy="362.5" r="1.2" fill="#0c0c0c"/>
<circle cx="132.4" cy="362.6" r="1.2" fill="#0c0c0c"/>
<circle cx="131.2" cy="362.7" r="1.2" fill="#0c0c0c"/>
<circle cx="135.1" cy="362.7" r="1.2" fill="#0c0c0c"/>
<circle cx="132.9" cy="362.9" r="1.2" fill="#0c0c0c"/>
<circle cx="134.0" cy="362.9" r="1.2" fill="#0c0c0c"/>
<circle cx="125.5" cy="362.9" r="1.2" fill="#0c0c0c"/>
<circle cx="132.4" cy="363.0" r="1.2" fill="#0c0c0c"/>
<circle cx="126.9" cy="363.0" r="1.2" fill="#0c0c0c"/>
<circle cx="126.0" cy="363.2" r="1.2" fill="#0c0c0c"/>
<circle cx="119.8" cy="363.4" r="1.2" fill="#0c0c0c"/>
<circle cx="115.1" cy="363.5" r="1.2" fill="#0c0c0c"/>
<circle cx="138.0" cy="363.5" r="1.2" fill="#0c0c0c"/>
<circle cx="122.1" cy="363.7" r="1.2" fill="#0c0c0c"/>
<circle cx="126.5" cy="363.7" r="1.2" fill="#0c0c0c"/>
<circle cx="134.5" cy="363.8" r="1.2" fill="#0c0c0c"/>
<circle cx="137.5" cy="363.8" r="1.2" fill="#0c0c0c"/>
<circle cx="136.3" cy="363.8" r="1.2" fill="#0c0c0c"/>
<circle cx="122.4" cy="363.9" r="1.2" fill="#0c0c0c"/>
<circle cx="123.0" cy="363.9" r="1.2" fill="#0c0c0c"/>
<circle cx="138.7" cy="363.9" r="1.2" fill="#0c0c0c"/>
<circle cx="121.4" cy="363.9" r="1.2" fill="#0c0c0c"/>
<circle cx="133.8" cy="363.9" r="1.2" fill="#0c0c0c"/>
<circle cx="131.9" cy="363.9" r="1.2" fill="#0c0c0c"/>
<circle cx="136.0" cy="364.0" r="1.2" fill="#0c0c0c"/>
<circle cx="127.5" cy="364.2" r="1.2" fill="#0c0c0c"/>
<circle cx="117.9" cy="364.2" r="1.2" fill="#0c0c0c"/>
<circle cx="126.5" cy="364.4" r="1.2" fill="#0c0c0c"/>
<circle cx="132.3" cy="364.4" r="1.2" fill="#0c0c0c"/>
<circle cx="137.2" cy="364.4" r="1.2" fill="#0c0c0c"/>
<circle cx="123.7" cy="364.5" r="1.2" fill="#0c0c0c"/>
<circle cx="125.3" cy="364.5" r="1.2" fill="#0c0c0c"/>
<circle cx="133.0" cy="364.5" r="1.2" fill="#0c0c0c"/>
<circle cx="120.8" cy="364.6" r="1.2" fill="#0c0c0c"/>
<circle cx="139.0" cy="364.6" r="1.2" fill="#0c0c0c"/>
<circle cx="118.8" cy="364.7" r="1.2" fill="#0c0c0c"/>
<circle cx="133.0" cy="364.7" r="1.2" fill="#0c0c0c"/>
<circle cx="132.8" cy="364.7" r="1.2" fill="#0c0c0c"/>
<circle cx="126.3" cy="364.8" r="1.2" fill="#0c0c0c"/>
<circle cx="137.9" cy="364.8" r="1.2" fill="#0c0c0c"/>
<circle cx="131.0" cy="364.8" r="1.2" fill="#0c0c0c"/>
<circle cx="125.2" cy="364.8" r="1.2" fill="#0c0c0c"/>
<circle cx="127.6" cy="364.9" r="1.2" fill="#0c0c0c"/>
<circle cx="131.4" cy="364.9" r="1.2" fill="#0c0c0c"/>
<circle cx="131.1" cy="364.9" r="1.2" fill="#0c0c0c"/>
<circle cx="134.1" cy="364.9" r="1.2" fill="#0c0c0c"/>
<circle cx="121.5" cy="364.9" r="1.2" fill="#0c0c0c"/>
<circle cx="121.2" cy="365.0" r="1.2" fill="#0c0c0c"/>
<circle cx="120.3" cy="365.1" r="1.2" fill="#0c0c0c"/>
<circle cx="132.1" cy="365.2" r="1.2" fill="#0c0c0c"/>
<circle cx="122.5" cy="365.2" r="1.2" fill="#0c0c0c"/>
<circle cx="126.5" cy="365.2" r="1.2" fill="#0c0c0c"/>
<circle cx="131.4" cy="365.2" r="1.2" fill="#0c0c0c"/>
<circle cx="131.8" cy="365.3" r="1.2" fill="#0c0c0c"/>
<circle cx="123.9" cy="365.3" r="1.2" fill="#0c0c0c"/>
<circle cx="132.9" cy="365.3" r="1.2" fill="#0c0c0c"/>
<circle cx="133.8" cy="365.4" r="1.2" fill="#0c0c0c"/>
<circle cx="126.0" cy="365.4" r="1.2" fill="#0c0c0c"/>
<circle cx="125.1" cy="365.4" r="1.2" fill="#0c0c0c"/>
<circle cx="126.2" cy="365.5" r="1.2" fill="#0c0c0c"/>
<circle cx="118.1" cy="365.5" r="1.2" fill="#0c0c0c"/>
<circle cx="131.2" cy="365.5" r="1.2" fill="#0c0c0c"/>
<circle cx="121.2" cy="365.5" r="1.2" fill="#0c0c0c"/>
<circle cx="124.1" cy="365.5" r="1.2" fill="#0c0c0c"/>
<circle cx="136.5" cy="365.6" r="1.2" fill="#0c0c0c"/>
<circle cx="131.5" cy="365.7" r="1.2" fill="#0c0c0c"/>
<circle cx="128.2" cy="365.7" r="1.2" fill="#0c0c0c"/>
<circle cx="132.9" cy="365.8" r="1.2" fill="#0c0c0c"/>
<circle cx="126.5" cy="365.9" r="1.2" fill="#0c0c0c"/>
<circle cx="127.2" cy="366.0" r="1.2" fill="#0c0c0c"/>
<circle cx="131.3" cy="366.0" r="1.2" fill="#0c0c0c"/>
<circle cx="130.9" cy="366.1" r="1.2" fill="#0c0c0c"/>
<circle cx="131.8" cy="366.1" r="1.2" fill="#0c0c0c"/>
<circle cx="122.7" cy="366.1" r="1.2" fill="#0c0c0c"/>
<circle cx="131.9" cy="366.2" r="1.2" fill="#0c0c0c"/>
<circle cx="123.4" cy="366.2" r="1.2" fill="#0c0c0c"/>
<circle cx="135.3" cy="366.3" r="1.2" fill="#0c0c0c"/>
<circle cx="127.5" cy="366.3" r="1.2" fill="#0c0c0c"/>
<circle cx="131.5" cy="366.4" r="1.2" fill="#0c0c0c"/>
<circle cx="127.3" cy="366.4" r="1.2" fill="#0c0c0c"/>
<circle cx="131.6" cy="366.4" r="1.2" fill="#0c0c0c"/>
<circle cx="136.6" cy="366.4" r="1.2" fill="#0c0c0c"/>
<circle cx="130.8" cy="366.5" r="1.2" fill="#0c0c0c"/>
<circle cx="131.4" cy="366.6" r="1.2" fill="#0c0c0c"/>
<circle cx="127.1" cy="366.6" r="1.2" fill="#0c0c0c"/>
<circle cx="127.5" cy="366.6" r="1.2" fill="#0c0c0c"/>
<circle cx="121.5" cy="366.6" r="1.2" fill="#0c0c0c"/>
<circle cx="131.8" cy="366.7" r="1.2" fill="#0c0c0c"/>
<circle cx="135.4" cy="366.7" r="1.2" fill="#0c0c0c"/>
<circle cx="125.0" cy="366.7" r="1.2" fill="#0c0c0c"/>
<circle cx="132.0" cy="366.7" r="1.2" fill="#0c0c0c"/>
<circle cx="124.1" cy="366.8" r="1.2" fill="#0c0c0c"/>
<circle cx="131.7" cy="366.8" r="1.2" fill="#0c0c0c"/>
<circle cx="126.8" cy="366.8" r="1.2" fill="#0c0c0c"/>
<circle cx="135.8" cy="366.8" r="1.2" fill="#0c0c0c"/>
<circle cx="130.0" cy="366.9" r="1.2" fill="#0c0c0c"/>
<circle cx="127.3" cy="367.0" r="1.2" fill="#0c0c0c"/>
<circle cx="126.4" cy="367.0" r="1.2" fill="#0c0c0c"/>
<circle cx="133.4" cy="367.1" r="1.2" fill="#0c0c0c"/>
<circle cx="134.9" cy="367.1" r="1.2" fill="#0c0c0c"/>
<circle cx="127.8" cy="367.2" r="1.2" fill="#0c0c0c"/>
<circle cx="129.9" cy="367.3" r="1.2" fill="#0c0c0c"/>
<circle cx="128.6" cy="367.3" r="1.2" fill="#0c0c0c"/>
<circle cx="130.6" cy="367.4" r="1.2" fill="#0c0c0c"/>
<circle cx="128.9" cy="367.4" r="1.2" fill="#0c0c0c"/>
<circle cx="130.4" cy="367.4" r="1.2" fill="#0c0c0c"/>
<circle cx="130.9" cy="367.5" r="1.2" fill="#0c0c0c"/>
<circle cx="130.7" cy="367.6" r="1.2" fill="#0c0c0c"/>
<circle cx="130.2" cy="367.6" r="1.2" fill="#0c0c0c"/>
<circle cx="127.0" cy="367.7" r="1.2" fill="#0c0c0c"/>
<circle cx="135.0" cy="367.7" r="1.2" fill="#0c0c0c"/>
<circle cx="132.4" cy="367.7" r="1.2" fill="#0c0c0c"/>
<circle cx="131.3" cy="367.8" r="1.2" fill="#0c0c0c"/>
<circle cx="123.5" cy="367.8" r="1.2" fill="#0c0c0c"/>
<circle cx="131.8" cy="367.8" r="1.2" fill="#0c0c0c"/>
<circle cx="128.6" cy="367.8" r="1.2" fill="#0c0c0c"/>
<circle cx="126.3" cy="367.8" r="1.2" fill="#0c0c0c"/>
<circle cx="129.2" cy="367.8" r="1.2" fill="#0c0c0c"/>
<circle cx="128.0" cy="367.9" r="1.2" fill="#0c0c0c"/>
<circle cx="131.3" cy="367.9" r="1.2" fill="#0c0c0c"/>
<circle cx="131.6" cy="367.9" r="1.2" fill="#0c0c0c"/>
<circle cx="124.0" cy="367.9" r="1.2" fill="#0c0c0c"/>
<circle cx="129.0" cy="367.9" r="1.2" fill="#0c0c0c"/>
<circle cx="130.7" cy="367.9" r="1.2" fill="#0c0c0c"/>
<circle cx="125.3" cy="368.0" r="1.2" fill="#0c0c0c"/>
<circle cx="130.5" cy="368.0" r="1.2" fill="#0c0c0c"/>
<circle cx="131.7" cy="368.0" r="1.2" fill="#0c0c0c"/>
<circle cx="124.4" cy="368.0" r="1.2" fill="#0c0c0c"/>
<circle cx="131.0" cy="368.0" r="1.2" fill="#0c0c0c"/>
<circle cx="130.3" cy="368.0" r="1.2" fill="#0c0c0c"/>
<circle cx="131.0" cy="368.0" r="1.2" fill="#0c0c0c"/>
<circle cx="133.9" cy="368.1" r="1.2" fill="#0c0c0c"/>
<circle cx="131.9" cy="368.1" r="1.2" fill="#0c0c0c"/>
<circle cx="125.5" cy="368.1" r="1.2" fill="#0c0c0c"/>
<circle cx="129.0" cy="368.2" r="1.2" fill="#0c0c0c"/>
<circle cx="129.2" cy="368.2" r="1.2" fill="#0c0c0c"/>
<circle cx="128.7" cy="368.2" r="1.2" fill="#0c0c0c"/>
<circle cx="130.8" cy="368.2" r="1.2" fill="#0c0c0c"/>
<circle cx="133.6" cy="368.2" r="1.2" fill="#0c0c0c"/>
<circle cx="125.6" cy="368.3" r="1.2" fill="#0c0c0c"/>
<circle cx="129.1" cy="368.4" r="1.2" fill="#0c0c0c"/>
<circle cx="126.4" cy="368.4" r="1.2" fill="#0c0c0c"/>
<circle cx="127.8" cy="368.4" r="1.2" fill="#0c0c0c"/>
<circle cx="130.8" cy="368.4" r="1.2" fill="#0c0c0c"/>
<circle cx="129.4" cy="368.4" r="1.2" fill="#0c0c0c"/>
<circle cx="131.9" cy="368.4" r="1.2" fill="#0c0c0c"/>
<circle cx="124.9" cy="368.4" r="1.2" fill="#0c0c0c"/>
<circle cx="130.3" cy="368.4" r="1.2" fill="#0c0c0c"/>
<circle cx="133.0" cy="368.4" r="1.2" fill="#0c0c0c"/>
<circle cx="130.5" cy="368.5" r="1.2" fill="#0c0c0c"/>
<circle cx="133.8" cy="368.5" r="1.2" fill="#0c0c0c"/>
<circle cx="126.7" cy="368.6" r="1.2" fill="#0c0c0c"/>
<circle cx="128.5" cy="368.6" r="1.2" fill="#0c0c0c"/>
<circle cx="132.3" cy="368.6" r="1.2" fill="#0c0c0c"/>
<circle cx="127.9" cy="368.6" r="1.2" fill="#0c0c0c"/>
<circle cx="130.2" cy="368.6" r="1.2" fill="#0c0c0c"/>
<circle cx="129.0" cy="368.6" r="1.2" fill="#0c0c0c"/>
<circle cx="128.5" cy="368.6" r="1.2" fill="#0c0c0c"/>
<circle cx="127.9" cy="368.7" r="1.2" fill="#0c0c0c"/>
<circle cx="131.3" cy="368.7" r="1.2" fill="#0c0c0c"/>
<circle cx="126.8" cy="368.7" r="1.2" fill="#0c0c0c"/>
<circle cx="128.5" cy="368.7" r="1.2" fill="#0c0c0c"/>
<circle cx="128.3" cy="368.8" r="1.2" fill="#0c0c0c"/>
<circle cx="129.9" cy="368.8" r="1.2" fill="#0c0c0c"/>
<circle cx="131.7" cy="368.8" r="1.2" fill="#0c0c0c"/>
<circle cx="129.9" cy="368.8" r="1.2" fill="#0c0c0c"/>
<circle cx="127.5" cy="368.8" r="1.2" fill="#0c0c0c"/>
<circle cx="130.4" cy="368.8" r="1.2" fill="#0c0c0c"/>
<circle cx="132.3" cy="368.8" r="1.2" fill="#0c0c0c"/>
<circle cx="131.2" cy="368.8" r="1.2" fill="#0c0c0c"/>
<circle cx="130.3" cy="368.8" r="1.2" fill="#0c0c0c"/>
<circle cx="129.1" cy="368.9" r="1.2" fill="#0c0c0c"/>
<circle cx="127.2" cy="368.9" r="1.2" fill="#0c0c0c"/>
<circle cx="128.4" cy="368.9" r="1.2" fill="#0c0c0c"/>
<circle cx="132.5" cy="368.9" r="1.2" fill="#0c0c0c"/>
<circle cx="128.9" cy="368.9" r="1.2" fill="#0c0c0c"/>
<circle cx="129.5" cy="368.9" r="1.2" fill="#0c0c0c"/>
<circle cx="129.3" cy="369.0" r="1.2" fill="#0c0c0c"/>
<circle cx="131.8" cy="369.0" r="1.2" fill="#0c0c0c"/>
<circle cx="128.1" cy="369.0" r="1.2" fill="#0c0c0c"/>
<circle cx="127.5" cy="369.0" r="1.2" fill="#0c0c0c"/>
<circle cx="130.2" cy="369.0" r="1.2" fill="#0c0c0c"/>
<circle cx="130.6" cy="369.1" r="1.2" fill="#0c0c0c"/>
<circle cx="128.7" cy="369.1" r="1.2" fill="#0c0c0c"/>
<circle cx="130.0" cy="369.1" r="1.2" fill="#0c0c0c"/>
<circle cx="129.0" cy="369.1" r="1.2" fill="#0c0c0c"/>
<circle cx="130.4" cy="369.1" r="1.2" fill="#0c0c0c"/>
<circle cx="130.9" cy="369.2" r="1.2" fill="#0c0c0c"/>
<circle cx="130.1" cy="369.2" r="1.2" fill="#0c0c0c"/>
<circle cx="126.9" cy="369.2" r="1.2" fill="#0c0c0c"/>
<circle cx="127.6" cy="369.2" r="1.2" fill="#0c0c0c"/>
<circle cx="131.0" cy="369.2" r="1.2" fill="#0c0c0c"/>
<circle cx="129.1" cy="369.2" r="1.2" fill="#0c0c0c"/>
<circle cx="129.5" cy="369.3" r="1.2" fill="#0c0c0c"/>
<circle cx="131.1" cy="369.3" r="1.2" fill="#0c0c0c"/>
<circle cx="131.6" cy="369.3" r="1.2" fill="#0c0c0c"/>
<circle cx="131.2" cy="369.3" r="1.2" fill="#0c0c0c"/>
<circle cx="129.9" cy="369.3" r="1.2" fill="#0c0c0c"/>
<circle cx="131.7" cy="369.3" r="1.2" fill="#0c0c0c"/>
<circle cx="129.2" cy="369.3" r="1.2" fill="#0c0c0c"/>
<circle cx="130.2" cy="369.3" r="1.2" fill="#0c0c0c"/>
<circle cx="128.6" cy="369.3" r="1.2" fill="#0c0c0c"/>
<circle cx="131.1" cy="369.3" r="1.2" fill="#0c0c0c"/>
<circle cx="127.6" cy="369.4" r="1.2" fill="#0c0c0c"/>
<circle cx="129.2" cy="369.4" r="1.2" fill="#0c0c0c"/>
<circle cx="129.9" cy="369.4" r="1.2" fill="#0c0c0c"/>
<circle cx="130.5" cy="369.4" r="1.2" fill="#0c0c0c"/>
<circle cx="129.2" cy="369.4" r="1.2" fill="#0c0c0c"/>
<circle cx="130.8" cy="369.4" r="1.2" fill="#0c0c0c"/>
<circle cx="130.5" cy="369.4" r="1.2" fill="#0c0c0c"/>
<circle cx="130.4" cy="369.4" r="1.2" fill="#0c0c0c"/>
<circle cx="128.2" cy="369.4" r="1.2" fill="#0c0c0c"/>
<circle cx="129.7" cy="369.4" r="1.2" fill="#0c0c0c"/>
<circle cx="129.9" cy="369.4" r="1.2" fill="#0c0c0c"/>
<circle cx="127.5" cy="369.4" r="1.2" fill="#0c0c0c"/>
<circle cx="130.4" cy="369.5" r="1.2" fill="#0c0c0c"/>
<circle cx="129.6" cy="369.5" r="1.2" fill="#0c0c0c"/>
<circle cx="130.5" cy="369.5" r="1.2" fill="#0c0c0c"/>
<circle cx="129.9" cy="369.5" r="1.2" fill="#0c0c0c"/>
<circle cx="127.9" cy="369.5" r="1.2" fill="#0c0c0c"/>
<circle cx="129.8" cy="369.5" r="1.2" fill="#0c0c0c"/>
<circle cx="130.7" cy="369.5" r="1.2" fill="#0c0c0c"/>
<circle cx="129.7" cy="369.5" r="1.2" fill="#0c0c0c"/>
<circle cx="129.8" cy="369.5" r="1.2" fill="#0c0c0c"/>
<circle cx="127.0" cy="369.5" r="1.2" fill="#0c0c0c"/>
<circle cx="130.1" cy="369.6" r="1.2" fill="#0c0c0c"/>
<circle cx="128.3" cy="369.6" r="1.2" fill="#0c0c0c"/>
<circle cx="128.2" cy="369.6" r="1.2" fill="#0c0c0c"/>
<circle cx="130.6" cy="369.6" r="1.2" fill="#0c0c0c"/>
<circle cx="128.3" cy="369.6" r="1.2" fill="#0c0c0c"/>
<circle cx="129.9" cy="369.6" r="1.2" fill="#0c0c0c"/>
<circle cx="129.6" cy="369.6" r="1.2" fill="#0c0c0c"/>
<circle cx="129.3" cy="369.6" r="1.2" fill="#0c0c0c"/>
<circle cx="130.0" cy="369.6" r="1.2" fill="#0c0c0c"/>
<circle cx="130.0" cy="369.6" r="1.2" fill="#0c0c0c"/>
<circle cx="130.8" cy="369.6" r="1.2" fill="#0c0c0c"/>
<circle cx="128.1" cy="369.7" r="1.2" fill="#0c0c0c"/>
<circle cx="129.4" cy="369.7" r="1.2" fill="#0c0c0c"/>
<circle cx="128.8" cy="369.7" r="1.2" fill="#0c0c0c"/>
<circle cx="129.9" cy="369.7" r="1.2" fill="#0c0c0c"/>
<circle cx="130.7" cy="369.7" r="1.2" fill="#0c0c0c"/>
<circle cx="130.8" cy="369.7" r="1.2" fill="#0c0c0c"/>
<circle cx="128.0" cy="369.7" r="1.2" fill="#0c0c0c"/>
<circle cx="128.0" cy="369.7" r="1.2" fill="#0c0c0c"/>
<circle cx="131.0" cy="369.7" r="1.2" fill="#0c0c0c"/>
<circle cx="128.6" cy="369.7" r="1.2" fill="#0c0c0c"/>
<circle cx="129.6" cy="369.7" r="1.2" fill="#0c0c0c"/>
<circle cx="131.1" cy="369.7" r="1.2" fill="#0c0c0c"/>
<circle cx="129.7" cy="369.7" r="1.2" fill="#0c0c0c"/>
<circle cx="129.6" cy="369.7" r="1.2" fill="#0c0c0c"/>
<circle cx="127.7" cy="369.7" r="1.2" fill="#0c0c0c"/>
<circle cx="130.6" cy="369.7" r="1.2" fill="#0c0c0c"/>
<circle cx="128.6" cy="369.7" r="1.2" fill="#0c0c0c"/>
<circle cx="130.6" cy="369.8" r="1.2" fill="#0c0c0c"/>
<circle cx="130.2" cy="369.8" r="1.2" fill="#0c0c0c"/>
<circle cx="129.9" cy="369.8" r="1.2" fill="#0c0c0c"/>
<circle cx="127.5" cy="369.8" r="1.2" fill="#0c0c0c"/>
<circle cx="128.8" cy="369.8" r="1.2" fill="#0c0c0c"/>
<circle cx="128.5" cy="369.8" r="1.2" fill="#0c0c0c"/>
<circle cx="130.6" cy="369.8" r="1.2" fill="#0c0c0c"/>
<circle cx="129.5" cy="369.8" r="1.2" fill="#0c0c0c"/>
<circle cx="128.9" cy="369.8" r="1.2" fill="#0c0c0c"/>
<circle cx="130.8" cy="369.8" r="1.2" fill="#0c0c0c"/>
<circle cx="129.9" cy="369.8" r="1.2" fill="#0c0c0c"/>
<circle cx="129.9" cy="369.8" r="1.2" fill="#0c0c0c"/>
<circle cx="130.6" cy="369.8" r="1.2" fill="#0c0c0c"/>
<circle cx="130.9" cy="369.8" r="1.2" fill="#0c0c0c"/>
<circle cx="130.9" cy="369.9" r="1.2" fill="#0c0c0c"/>
<circle cx="130.1" cy="369.9" r="1.2" fill="#0c0c0c"/>
<circle cx="130.7" cy="369.9" r="1.2" fill="#0c0c0c"/>
<circle cx="129.4" cy="369.9" r="1.2" fill="#0c0c0c"/>
<circle cx="129.8" cy="369.9" r="1.2" fill="#0c0c0c"/>
<circle cx="130.1" cy="369.9" r="1.2" fill="#0c0c0c"/>
<circle cx="129.9" cy="369.9" r="1.2" fill="#0c0c0c"/>
<circle cx="130.3" cy="369.9" r="1.2" fill="#0c0c0c"/>
<circle cx="130.3" cy="369.9" r="1.2" fill="#0c0c0c"/>
<circle cx="128.0" cy="369.9" r="1.2" fill="#0c0c0c"/>
<circle cx="130.8" cy="369.9" r="1.2" fill="#0c0c0c"/>
<circle cx="129.9" cy="369.9" r="1.2" fill="#0c0c0c"/>
<circle cx="128.4" cy="369.9" r="1.2" fill="#0c0c0c"/>
<circle cx="129.9" cy="369.9" r="1.2" fill="#0c0c0c"/>
<circle cx="131.0" cy="369.9" r="1.2" fill="#0c0c0c"/>
<circle cx="128.2" cy="369.9" r="1.2" fill="#0c0c0c"/>
<circle cx="130.8" cy="369.9" r="1.2" fill="#0c0c0c"/>
<circle cx="128.0" cy="369.9" r="1.2" fill="#0c0c0c"/>
<circle cx="127.7" cy="369.9" r="1.2" fill="#0c0c0c"/>
<circle cx="129.9" cy="369.9" r="1.2" fill="#0c0c0c"/>
<circle cx="129.9" cy="369.9" r="1.2" fill="#0c0c0c"/>
<circle cx="129.9" cy="369.9" r="1.2" fill="#0c0c0c"/>
<circle cx="129.0" cy="369.9" r="1.2" fill="#0c0c0c"/>
<circle cx="129.9" cy="369.9" r="1.2" fill="#0c0c0c"/>
<circle cx="129.9" cy="369.9" r="1.2" fill="#0c0c0c"/>
<circle cx="130.3" cy="369.9" r="1.2" fill="#0c0c0c"/>
<circle cx="129.6" cy="370.0" r="1.2" fill="#0c0c0c"/>
<circle cx="129.9" cy="370.0" r="1.2" fill="#0c0c0c"/>
<circle cx="130.4" cy="370.0" r="1.2" fill="#0c0c0c"/>
<circle cx="129.9" cy="370.0" r="1.2" fill="#0c0c0c"/>
<circle cx="128.6" cy="370.0" r="1.2" fill="#0c0c0c"/>
<circle cx="129.6" cy="370.0" r="1.2" fill="#0c0c0c"/>
<circle cx="128.8" cy="370.0" r="1.2" fill="#0c0c0c"/>
<circle cx="130.2" cy="370.0" r="1.2" fill="#0c0c0c"/>
<circle cx="129.8" cy="370.0" r="1.2" fill="#0c0c0c"/>
<circle cx="128.0" cy="370.0" r="1.2" fill="#0c0c0c"/>
<circle cx="130.6" cy="370.0" r="1.2" fill="#0c0c0c"/>
<circle cx="129.9" cy="370.0" r="1.2" fill="#0c0c0c"/>
<circle cx="129.7" cy="370.0" r="1.2" fill="#0c0c0c"/>
<circle cx="129.7" cy="370.0" r="1.2" fill="#0c0c0c"/>
<circle cx="130.0" cy="370.0" r="1.2" fill="#0c0c0c"/>
<circle cx="130.6" cy="370.0" r="1.2" fill="#0c0c0c"/>
<circle cx="130.3" cy="370.0" r="1.2" fill="#0c0c0c"/>
<circle cx="129.9" cy="370.0" r="1.2" fill="#0c0c0c"/>
<circle cx="129.6" cy="370.0" r="1.2" fill="#0c0c0c"/>
<circle cx="129.9" cy="370.0" r="1.2" fill="#0c0c0c"/>
<circle cx="129.7" cy="370.0" r="1.2" fill="#0c0c0c"/>
<circle cx="129.9" cy="370.0" r="1.2" fill="#0c0c0c"/>
<circle cx="129.9" cy="370.0" r="1.2" fill="#0c0c0c"/>
<circle cx="129.1" cy="370.0" r="1.2" fill="#0c0c0c"/>
<circle cx="129.0" cy="370.0" r="1.2" fill="#0c0c0c"/>
<circle cx="129.9" cy="370.0" r="1.2" fill="#0c0c0c"/>
<circle cx="129.0" cy="370.0" r="1.2" fill="#0c0c0c"/>
<circle cx="128.8" cy="370.0" r="1.2" fill="#0c0c0c"/>
<circle cx="129.3" cy="370.0" r="1.2" fill="#0c0c0c"/>
<circle cx="130.8" cy="370.0" r="1.2" fill="#0c0c0c"/>
<circle cx="128.3" cy="370.0" r="1.2" fill="#0c0c0c"/>
<circle cx="129.9" cy="370.0" r="1.2" fill="#0c0c0c"/>
<circle cx="129.9" cy="370.0" r="1.2" fill="#0c0c0c"/>
<circle cx="130.9" cy="370.0" r="1.2" fill="#0c0c0c"/>
<circle cx="129.9" cy="370.0" r="1.2" fill="#0c0c0c"/>
<circle cx="129.1" cy="370.0" r="1.2" fill="#0c0c0c"/>
<circle cx="129.9" cy="370.0" r="1.2" fill="#0c0c0c"/>
<circle cx="129.9" cy="370.0" r="1.2" fill="#0c0c0c"/>
<circle cx="130.0" cy="370.0" r="1.2" fill="#0c0c0c"/>
<circle cx="55" cy="250" r="1.35" fill="#1c2a8c" stroke="#05051a" stroke-width="0.5"/>
<circle cx="79" cy="260.5" r="1.35" fill="#1c2a8c" stroke="#05051a" stroke-width="0.5"/>
<circle cx="86.5" cy="286.2" r="1.35" fill="#1c2a8c" stroke="#05051a" stroke-width="0.5"/>
<circle cx="81" cy="294.3" r="1.35" fill="#1c2a8c" stroke="#05051a" stroke-width="0.5"/>
<circle cx="48" cy="300.5" r="1.35" fill="#1c2a8c" stroke="#05051a" stroke-width="0.5"/>
<circle cx="93.9" cy="315.5" r="1.35" fill="#1c2a8c" stroke="#05051a" stroke-width="0.5"/>
<circle cx="96.6" cy="316.6" r="1.35" fill="#1c2a8c" stroke="#05051a" stroke-width="0.5"/>
<circle cx="93" cy="318.8" r="1.35" fill="#1c2a8c" stroke="#05051a" stroke-width="0.5"/>
<circle cx="95.2" cy="319.6" r="1.35" fill="#1c2a8c" stroke="#05051a" stroke-width="0.5"/>
<circle cx="92" cy="320.9" r="1.35" fill="#1c2a8c" stroke="#05051a" stroke-width="0.5"/>
<circle cx="104.7" cy="319.6" r="1.35" fill="#1c2a8c" stroke="#05051a" stroke-width="0.5"/>
<circle cx="108.8" cy="319.6" r="1.35" fill="#1c2a8c" stroke="#05051a" stroke-width="0.5"/>
<circle cx="99.8" cy="322.8" r="1.35" fill="#1c2a8c" stroke="#05051a" stroke-width="0.5"/>
<circle cx="113.4" cy="322.8" r="1.35" fill="#1c2a8c" stroke="#05051a" stroke-width="0.5"/>
<circle cx="100.6" cy="326.9" r="1.35" fill="#1c2a8c" stroke="#05051a" stroke-width="0.5"/>
<circle cx="110.7" cy="328.3" r="1.35" fill="#1c2a8c" stroke="#05051a" stroke-width="0.5"/>
<circle cx="89.8" cy="330" r="1.35" fill="#1c2a8c" stroke="#05051a" stroke-width="0.5"/>
<circle cx="101.2" cy="330" r="1.35" fill="#1c2a8c" stroke="#05051a" stroke-width="0.5"/>
<circle cx="165.1" cy="287.6" r="1.35" fill="#e0241c" stroke="#1a0505" stroke-width="0.5"/>
<circle cx="177" cy="289.5" r="1.35" fill="#e0241c" stroke="#1a0505" stroke-width="0.5"/>
<circle cx="156.7" cy="297.1" r="1.35" fill="#e0241c" stroke="#1a0505" stroke-width="0.5"/>
<circle cx="181.4" cy="304.4" r="1.35" fill="#e0241c" stroke="#1a0505" stroke-width="0.5"/>
<circle cx="173.8" cy="303.9" r="1.35" fill="#e0241c" stroke="#1a0505" stroke-width="0.5"/>
<circle cx="170.3" cy="307.1" r="1.35" fill="#e0241c" stroke="#1a0505" stroke-width="0.5"/>
<circle cx="167.3" cy="309.3" r="1.35" fill="#e0241c" stroke="#1a0505" stroke-width="0.5"/>
<circle cx="152.9" cy="311.2" r="1.35" fill="#e0241c" stroke="#1a0505" stroke-width="0.5"/>
<circle cx="157.5" cy="307.9" r="1.35" fill="#e0241c" stroke="#1a0505" stroke-width="0.5"/>
<circle cx="148.9" cy="317.4" r="1.35" fill="#e0241c" stroke="#1a0505" stroke-width="0.5"/>
<circle cx="153.5" cy="318.2" r="1.35" fill="#e0241c" stroke="#1a0505" stroke-width="0.5"/>
<circle cx="156.2" cy="319.3" r="1.35" fill="#e0241c" stroke="#1a0505" stroke-width="0.5"/>
<circle cx="149.4" cy="320.9" r="1.35" fill="#e0241c" stroke="#1a0505" stroke-width="0.5"/>
<circle cx="154.8" cy="322" r="1.35" fill="#e0241c" stroke="#1a0505" stroke-width="0.5"/>
<circle cx="159.4" cy="321.5" r="1.35" fill="#e0241c" stroke="#1a0505" stroke-width="0.5"/>
<circle cx="166.2" cy="317.4" r="1.35" fill="#e0241c" stroke="#1a0505" stroke-width="0.5"/>
<circle cx="167" cy="320.1" r="1.35" fill="#e0241c" stroke="#1a0505" stroke-width="0.5"/>
<circle cx="150.8" cy="325.5" r="1.35" fill="#e0241c" stroke="#1a0505" stroke-width="0.5"/>
<circle cx="154.8" cy="324.2" r="1.35" fill="#e0241c" stroke="#1a0505" stroke-width="0.5"/>
<circle cx="159.4" cy="327.7" r="1.35" fill="#e0241c" stroke="#1a0505" stroke-width="0.5"/>
<circle cx="148.9" cy="328.3" r="1.35" fill="#e0241c" stroke="#1a0505" stroke-width="0.5"/>
<circle cx="152.1" cy="326.4" r="1.35" fill="#e0241c" stroke="#1a0505" stroke-width="0.5"/>
<path d="M160,284.6 L165,287.4 L163,284.6" fill="#fff" stroke="#d8282a" stroke-width="0.6"/><rect x="135.3" y="279.6" width="29.0" height="5.0" fill="#fff" stroke="#d8282a" stroke-width="0.8" rx="0.8"/><text x="149.8" y="283.5" font-size="3.9" font-weight="bold" text-anchor="middle" fill="#222">miR-503-5p</text>
<path d="M152,294.9 L156.5,297 L155,294.9" fill="#fff" stroke="#d8282a" stroke-width="0.6"/><rect x="124.2" y="289.6" width="32.0" height="5.3" fill="#fff" stroke="#d8282a" stroke-width="0.8" rx="0.8"/><text x="140.2" y="293.6" font-size="3.9" font-weight="bold" text-anchor="middle" fill="#222">miR-106b-3p</text>
<path d="M145,314.7 L149,317.2 L148,314.7" fill="#fff" stroke="#d8282a" stroke-width="0.6"/><rect x="127.2" y="309.4" width="22.2" height="5.3" fill="#fff" stroke="#d8282a" stroke-width="0.8" rx="0.8"/><text x="138.3" y="313.4" font-size="3.9" font-weight="bold" text-anchor="middle" fill="#222">Let-7d-5p</text>
<path d="M138,321.6 L149,321 L141.3,319.5" fill="#fff" stroke="#d8282a" stroke-width="0.6"/><rect x="116.9" y="316.7" width="24.4" height="4.9" fill="#fff" stroke="#d8282a" stroke-width="0.8" rx="0.8"/><text x="129.1" y="320.5" font-size="3.9" font-weight="bold" text-anchor="middle" fill="#222">miR-93-5p</text>
<path d="M101,311.5 L104.6,319 L105,311.5" fill="#fff" stroke="#4a3aa8" stroke-width="0.6"/><rect x="81.1" y="306" width="29.6" height="5.5" fill="#fff" stroke="#4a3aa8" stroke-width="0.8" rx="0.8"/><text x="95.9" y="310.1" font-size="3.9" font-weight="bold" text-anchor="middle" fill="#222">miR-10a-5p</text>
</g>
<g id="panelD">
<text x="263" y="221.8" class="pl">D</text>
<clipPath id="cGL"><ellipse cx="375.2" cy="303.1" rx="41.6" ry="38.6" /></clipPath><clipPath id="cDE"><ellipse cx="435.1" cy="302.8" rx="41.6" ry="38.2" /></clipPath>
<ellipse cx="375.2" cy="303.1" rx="41.6" ry="38.6" fill="#e6e1f2"/>
<ellipse cx="435.1" cy="302.8" rx="41.6" ry="38.2" fill="#fdf8df"/>
<ellipse cx="405.1" cy="342.7" rx="41.5" ry="39.7" fill="#edf6e3"/>
<ellipse cx="435.1" cy="302.8" rx="41.6" ry="38.2" fill="#e9dfd0" clip-path="url(#cGL)"/>
<ellipse cx="405.1" cy="342.7" rx="41.5" ry="39.7" fill="#d6ddd4" clip-path="url(#cGL)"/>
<ellipse cx="405.1" cy="342.7" rx="41.5" ry="39.7" fill="#f1f2c4" clip-path="url(#cDE)"/>
<g clip-path="url(#cGL)"><ellipse cx="405.1" cy="342.7" rx="41.5" ry="39.7" fill="#d9d2bb" clip-path="url(#cDE)"/></g>
<path d="M376.5,250 L376.5,259.7 L434.2,259.7 L434.2,250 M404.6,259.7 L404.6,277 M262.7,309.5 L262.7,318.2 L400.5,318.2 M299.6,347 L299.6,338.2 L364.5,338.2 M446,338.3 L512.5,338.3 L512.5,347" stroke="#52b292" stroke-width="0.95" fill="none"/>
<ellipse cx="375.2" cy="303.1" rx="41.6" ry="38.6" fill="none" stroke="#3a9a6a" stroke-width="1.1"/>
<ellipse cx="435.1" cy="302.8" rx="41.6" ry="38.2" fill="none" stroke="#3a9a6a" stroke-width="1.1"/>
<ellipse cx="405.1" cy="342.7" rx="41.5" ry="39.7" fill="none" stroke="#3a9a6a" stroke-width="1.1"/>
<text x="374.6" y="284.3" font-size="7.4" font-weight="bold" text-anchor="middle" fill="#161616" stroke="#161616" stroke-width="0" textLength="36.6" lengthAdjust="spacingAndGlyphs">TMM_GLM</text>
<text x="436.4" y="284.3" font-size="7.4" font-weight="bold" text-anchor="middle" fill="#161616" stroke="#161616" stroke-width="0" textLength="26.2" lengthAdjust="spacingAndGlyphs">DESeq2</text>
<text x="404.5" y="358.5" font-size="7.4" font-weight="bold" text-anchor="middle" fill="#161616" stroke="#161616" stroke-width="0" textLength="35" lengthAdjust="spacingAndGlyphs">TMM_GSA</text>
<text x="372.7" y="305.5" font-size="13.8" font-weight="bold" text-anchor="middle" fill="#161616" stroke="#161616" stroke-width="0.25" textLength="12.4" lengthAdjust="spacingAndGlyphs">31</text>
<text x="404.8" y="299.2" font-size="13.8" font-weight="bold" text-anchor="middle" fill="#161616" stroke="#161616" stroke-width="0.25" textLength="8" lengthAdjust="spacingAndGlyphs">5</text>
<text x="404.8" y="317.3" font-size="13.6" font-weight="bold" text-anchor="middle" fill="#161616" stroke="#161616" stroke-width="0.25" textLength="8" lengthAdjust="spacingAndGlyphs">5</text>
<text x="441.6" y="305.5" font-size="13.8" font-weight="bold" text-anchor="middle" fill="#161616" stroke="#161616" stroke-width="0.25" textLength="8.2" lengthAdjust="spacingAndGlyphs">2</text>
<text x="378.6" y="329.8" font-size="13.6" font-weight="bold" text-anchor="middle" fill="#161616" stroke="#161616" stroke-width="0.25">1</text>
<text x="422.4" y="329.8" font-size="13.6" font-weight="bold" text-anchor="middle" fill="#161616" stroke="#161616" stroke-width="0.25">1</text>
<circle cx="270" cy="272.30" r="0.95" fill="#cf2027"/><text x="279" y="275.00" font-size="7.35" font-weight="bold" fill="#cf2027">miR-106b-3p</text>
<circle cx="270" cy="282.00" r="0.95" fill="#3a2a86"/><text x="279" y="284.70" font-size="7.35" font-weight="bold" fill="#3a2a86">miR-10a-5p</text>
<circle cx="270" cy="291.70" r="0.95" fill="#cf2027"/><text x="279" y="294.40" font-size="7.35" font-weight="bold" fill="#cf2027">miR-503-5p</text>
<circle cx="270" cy="301.40" r="0.95" fill="#cf2027"/><text x="279" y="304.10" font-size="7.35" font-weight="bold" fill="#cf2027">miR-93-5p</text>
<circle cx="270" cy="311.10" r="0.95" fill="#cf2027"/><text x="279" y="313.80" font-size="7.35" font-weight="bold" fill="#cf2027">Let-7d-5p</text>
<circle cx="381.8" cy="223.50" r="0.75" fill="#cf2027"/><text x="391.4" y="225.40" font-size="5.3" font-weight="bold" fill="#cf2027">miR-181c-5p</text>
<circle cx="381.8" cy="231.35" r="0.75" fill="#cf2027"/><text x="391.4" y="233.25" font-size="5.3" font-weight="bold" fill="#cf2027">miR-17-3p</text>
<circle cx="381.8" cy="239.20" r="0.75" fill="#cf2027"/><text x="391.4" y="241.10" font-size="5.3" font-weight="bold" fill="#cf2027">miR-182-5p</text>
<circle cx="381.8" cy="247.05" r="0.75" fill="#cf2027"/><text x="391.4" y="248.95" font-size="5.3" font-weight="bold" fill="#cf2027">miR-196b-5p</text>
<circle cx="381.8" cy="254.90" r="0.75" fill="#cf2027"/><text x="391.4" y="256.80" font-size="5.3" font-weight="bold" fill="#cf2027">miR-181d-5p</text>
<circle cx="302.5" cy="345.2" r="0.75" fill="#cf2027"/><text x="312.5" y="347.2" font-size="5.9" font-weight="bold" fill="#cf2027">Let-7i-5p</text>
<circle cx="466" cy="344.4" r="0.75" fill="#3a2a86"/><text x="476" y="346.4" font-size="5.9" font-weight="bold" fill="#3a2a86">miR-29b-3p</text>
</g>
</svg></body></html>
